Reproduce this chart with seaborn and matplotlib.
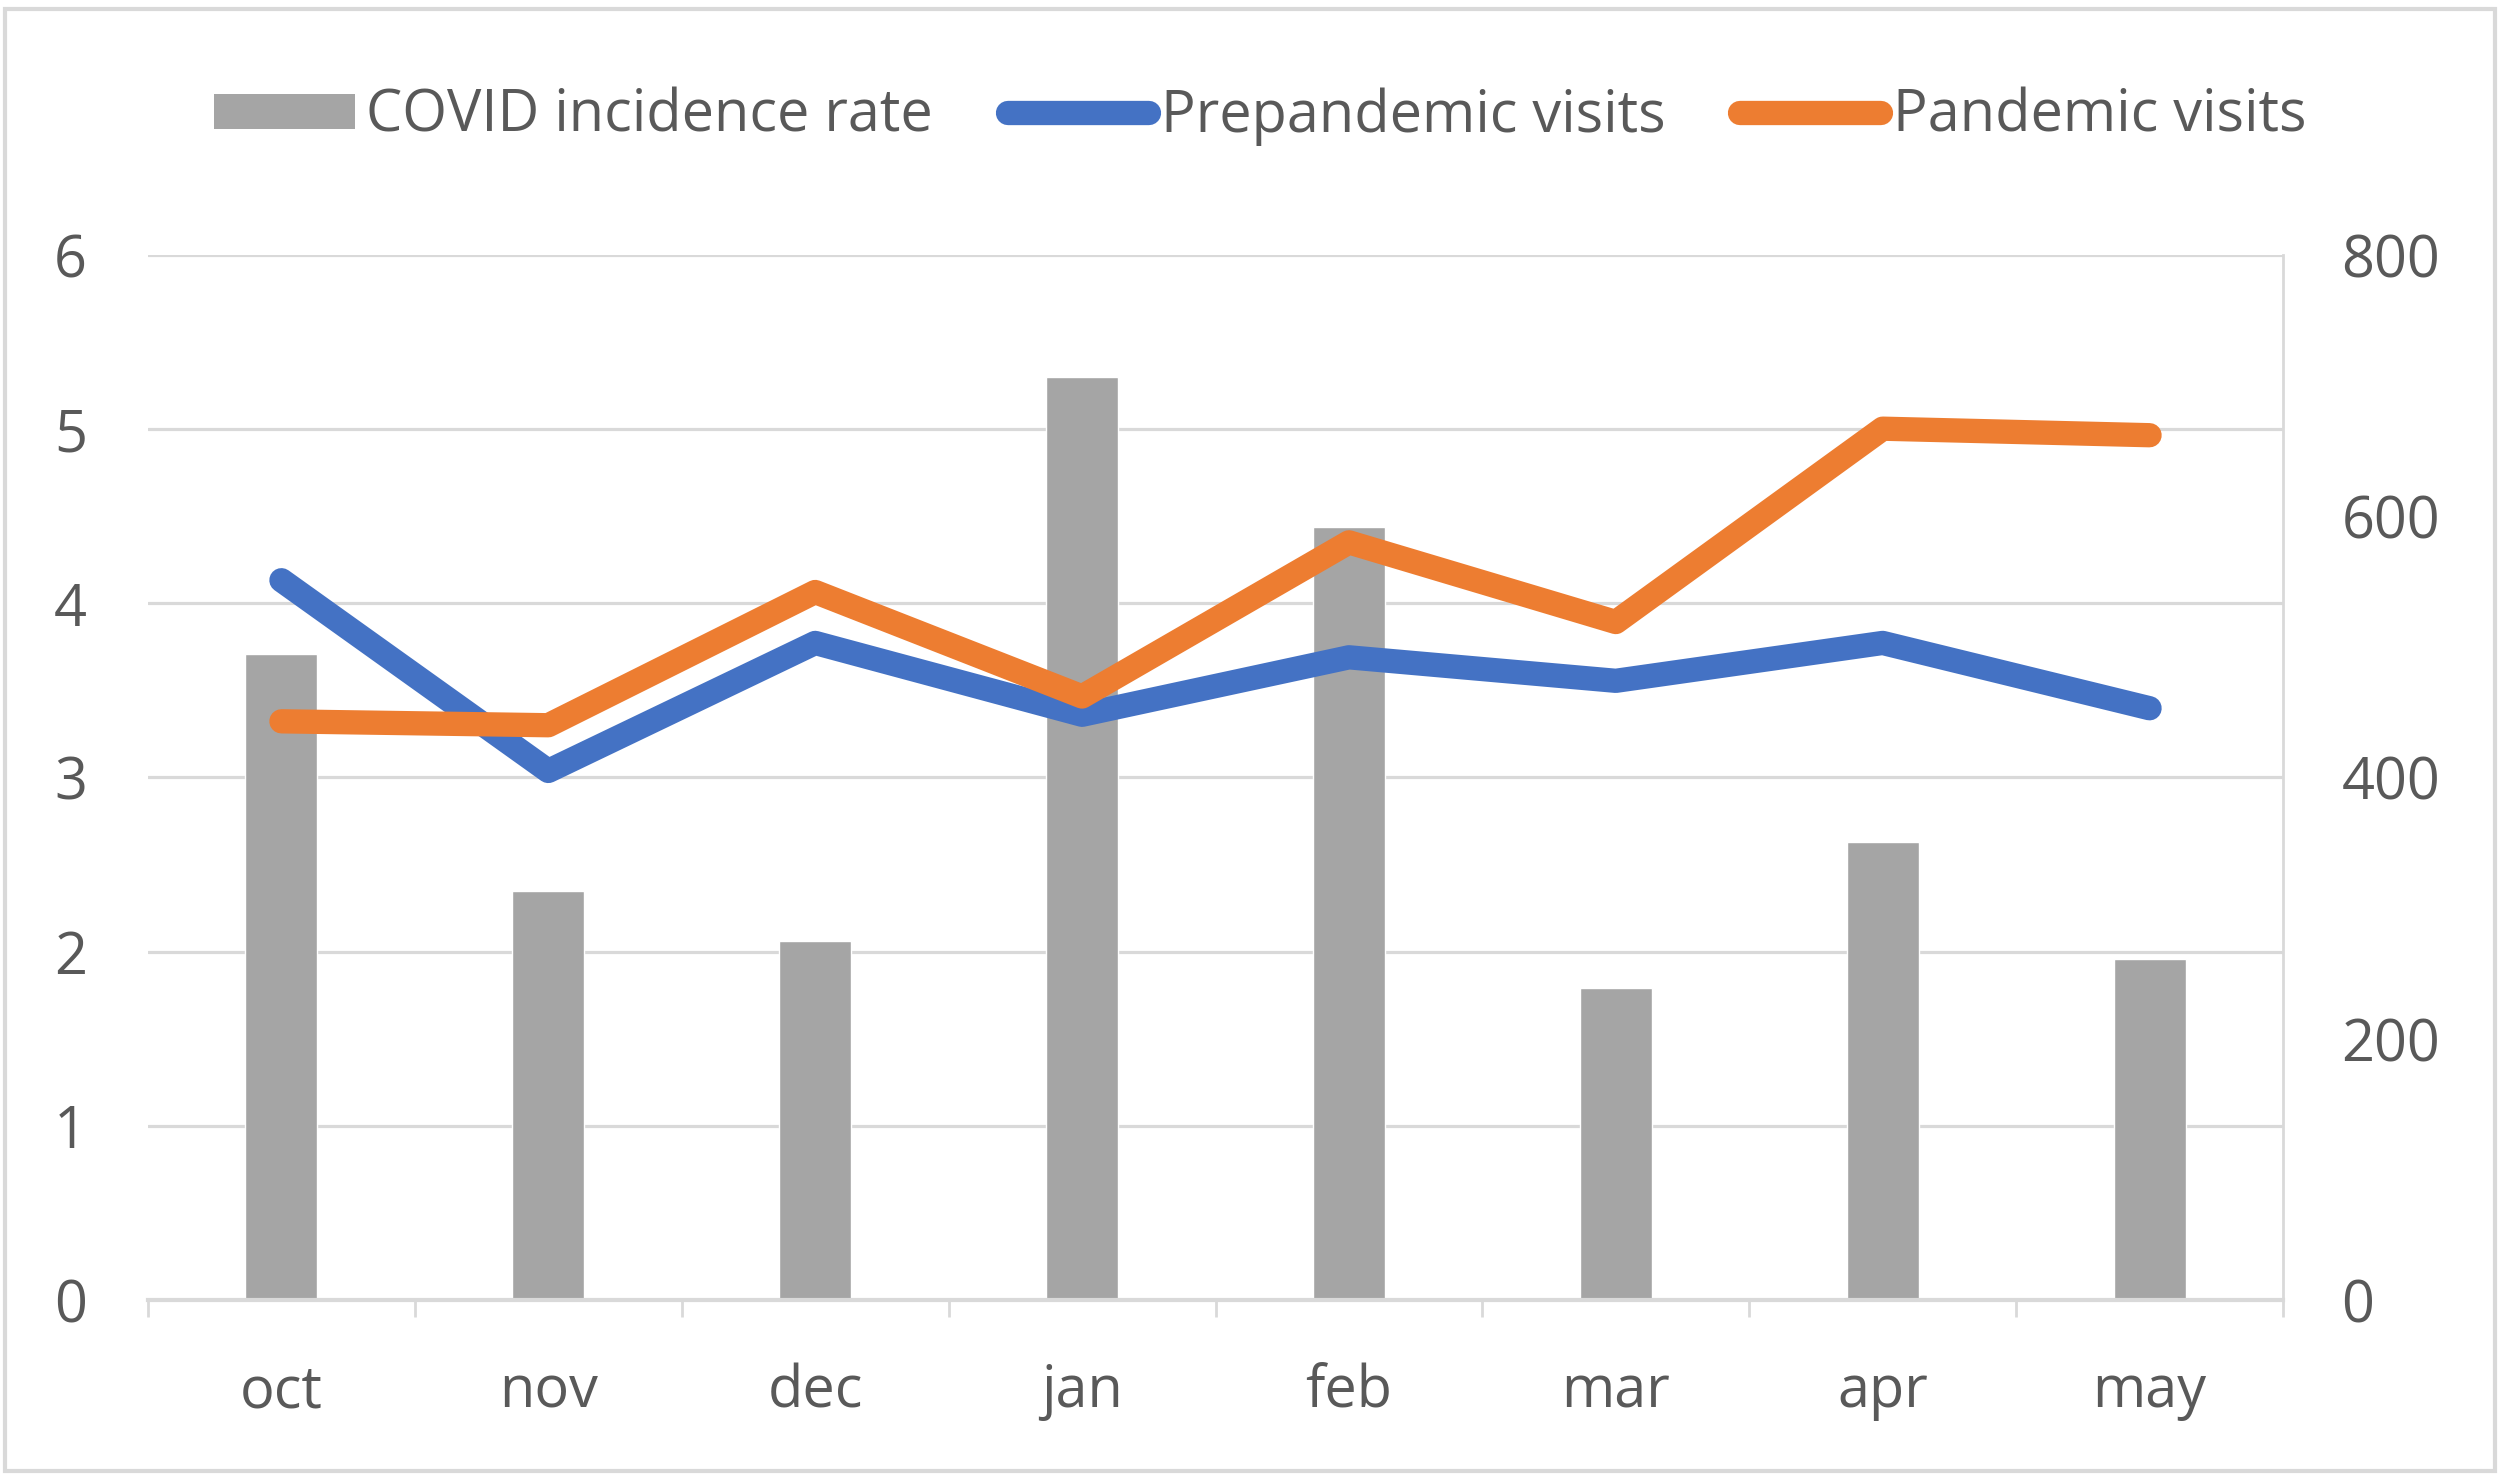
import matplotlib
matplotlib.use("Agg")
import matplotlib.pyplot as plt
import seaborn as sns
import pandas as pd
import numpy as np
from matplotlib.patches import Patch, Rectangle
from matplotlib.lines import Line2D

months = ["oct", "nov", "dec", "jan", "feb", "mar", "apr", "may"]
covid_rate = [3.71, 2.35, 2.06, 5.30, 4.44, 1.79, 2.63, 1.96]
prepandemic = [551, 405, 503, 448, 492, 474, 503, 453]
pandemic = [443, 440, 542, 462, 580, 519, 667, 662]

GREY = "#A5A5A5"
BLUE = "#4472C4"
ORANGE = "#ED7D31"
GRID = "#D9D9D9"
TXT = "#595959"

df = pd.DataFrame({"month": months, "rate": covid_rate,
                   "pre": prepandemic, "pan": pandemic})
df["pos"] = np.arange(len(df))

sns.set_style("white")
plt.rcParams["font.family"] = ["Open Sans", "DejaVu Sans"]
fs = 41.5
lw = 17.5

fig = plt.figure(figsize=(25, 14.77), dpi=100)
ax = fig.add_axes([0.0592, 0.1198, 0.8540, 0.7076])

sns.barplot(data=df, x="month", y="rate", color=GREY, width=0.27,
            saturation=1, ax=ax, zorder=2)
ax.set_ylim(0, 6)
ax.set_yticks(range(0, 7))
ax.set_xlim(-0.5, len(months) - 0.5)
ax.set_axisbelow(True)
ax.yaxis.grid(True, color=GRID, linewidth=2.3)
ax.set_xlabel("")
ax.set_ylabel("")

ax2 = ax.twinx()
sns.lineplot(data=df, x="pos", y="pre", color=BLUE, linewidth=lw,
             solid_capstyle="round", solid_joinstyle="round", ax=ax2)
sns.lineplot(data=df, x="pos", y="pan", color=ORANGE, linewidth=lw,
             solid_capstyle="round", solid_joinstyle="round", ax=ax2)
ax2.set_ylim(0, 800)
ax2.set_yticks(range(0, 801, 200))
ax2.set_ylabel("")
ax2.grid(False)

for a in (ax, ax2):
    for s in a.spines.values():
        s.set_visible(False)
ax2.spines["right"].set_visible(True)
ax2.spines["right"].set_color(GRID)
ax2.spines["right"].set_linewidth(2)
ax.spines["bottom"].set_visible(True)
ax.spines["bottom"].set_color(GRID)
ax.spines["bottom"].set_linewidth(3)

ax.set_xticks(range(len(months)))
ax.set_xticklabels(months)
ax.set_xticks(np.arange(-0.5, len(months)), minor=True)
ax.set_xlim(-0.5, len(months) - 0.5)
ax.tick_params(axis="x", which="major", bottom=True, length=0, pad=45,
               labelsize=fs, labelcolor=TXT, labelbottom=True)
ax.tick_params(axis="x", which="minor", bottom=True, length=12, width=2,
               color=GRID, direction="out")
ax.tick_params(axis="y", length=0, pad=44, labelsize=fs, labelcolor=TXT)
ax2.tick_params(axis="y", length=0, pad=42, labelsize=fs, labelcolor=TXT)
ax2.set_xlabel("")
ax.set_xlabel("")

handles = [
    Patch(facecolor=GREY, edgecolor="none"),
    Line2D([], [], color=BLUE, linewidth=lw, solid_capstyle="round"),
    Line2D([], [], color=ORANGE, linewidth=lw, solid_capstyle="round"),
]
labels = ["COVID incidence rate", "Prepandemic visits", "Pandemic visits"]
fig.legend(handles, labels, loc="center", bbox_to_anchor=(0.504, 0.921),
           ncol=3, frameon=False, fontsize=fs, labelcolor=TXT,
           handlelength=2.45, handleheight=0.55, handletextpad=0.2,
           columnspacing=1.3)

fig.patches.append(Rectangle((0.002, 0.004), 0.996, 0.99, transform=fig.transFigure,
                             fill=False, edgecolor=GRID, linewidth=3))

fig.savefig("out.png", dpi=100, facecolor="white")
